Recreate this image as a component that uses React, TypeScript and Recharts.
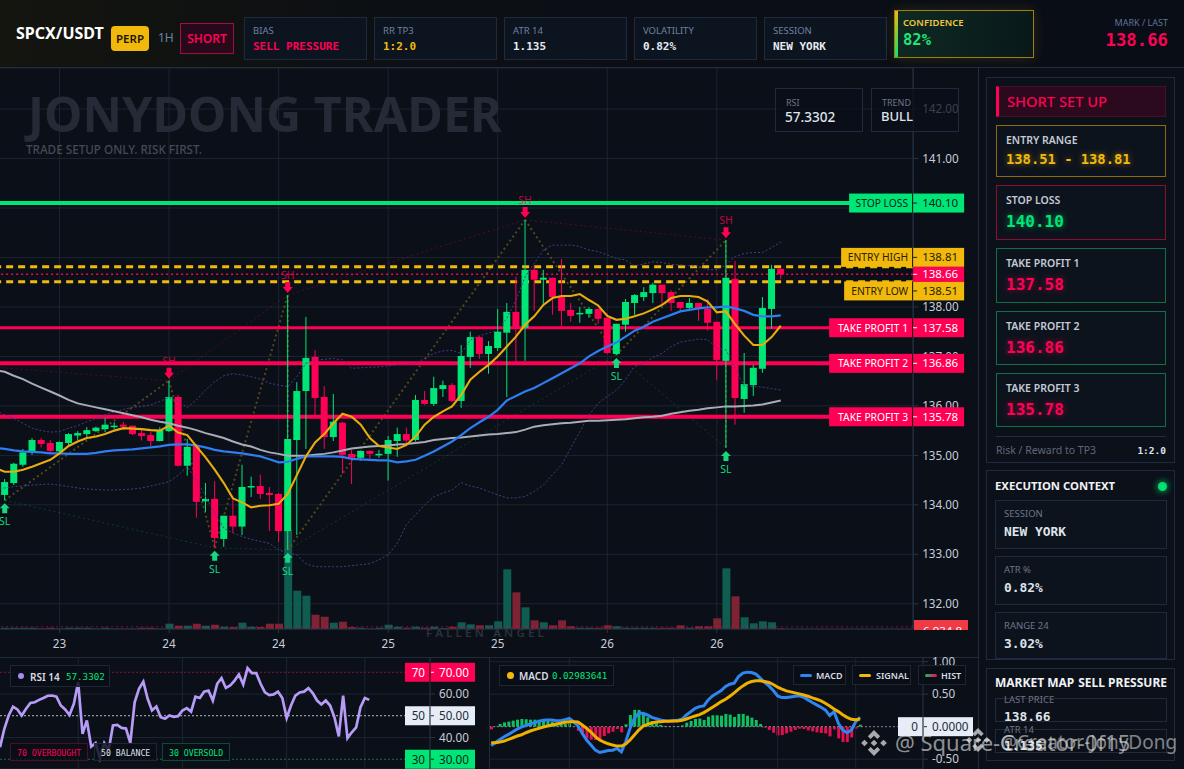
import React from "react";
import { ComposedChart, Bar, Line, Cell, XAxis, YAxis, CartesianGrid, ReferenceLine, ReferenceDot } from "recharts";

const SANS = '"Noto Sans", sans-serif';
const MONO = '"DejaVu Sans Mono", monospace';
const BG = "#0a0f18";
const GRID = "#1c2532";
const GREEN = "#00e676";
const RED = "#ff0055";
const YELLOW = "#f0b90b";

const opens = [134.20,134.44,134.81,135.06,135.31,135.25,135.08,135.25,135.40,135.43,135.49,135.53,135.59,135.62,135.60,135.45,135.41,135.29,135.49,136.18,134.79,135.19,134.07,134.12,133.31,133.78,133.56,134.36,134.38,134.24,134.22,133.47,135.31,136.30,136.99,136.18,135.37,135.66,135.03,134.95,135.09,135.02,135.03,135.29,135.43,135.31,136.12,136.04,136.34,136.42,136.10,136.99,137.39,137.05,137.17,137.48,137.90,137.58,138.75,138.55,138.59,138.20,137.94,137.85,137.86,137.96,137.78,137.05,137.64,138.08,138.20,138.28,138.45,138.30,138.10,137.98,138.08,137.96,137.70,136.91,138.57,136.14,136.42,136.75,137.96,138.77];
const highs = [134.52,134.85,135.13,135.35,135.35,135.31,135.28,135.45,135.49,135.57,135.58,135.75,135.67,135.68,135.60,135.55,135.47,135.57,136.51,136.22,135.33,135.23,134.44,134.48,133.78,134.10,134.81,134.57,134.61,134.36,134.24,138.24,136.48,137.80,137.13,136.40,136.24,135.68,135.11,135.10,135.10,135.11,135.39,135.56,135.56,136.22,136.30,136.59,136.51,136.46,137.23,137.50,137.41,137.31,137.96,138.08,138.61,139.76,138.83,138.75,138.59,138.97,138.08,138.00,138.00,137.96,137.87,137.66,138.16,138.26,138.40,138.49,138.45,138.34,138.10,138.18,138.08,138.16,137.70,139.35,138.93,137.07,136.83,138.20,138.85,138.77];
const lows = [134.09,134.40,134.77,135.01,135.16,135.04,135.04,135.21,135.30,135.35,135.47,135.47,135.53,135.51,135.41,135.30,135.19,135.28,135.47,134.78,134.59,133.74,133.86,133.13,133.15,133.43,133.39,134.16,134.12,133.47,133.25,133.09,133.39,135.13,135.82,135.13,135.29,134.63,134.42,134.89,134.93,134.95,134.49,134.97,135.18,135.28,136.02,136.00,136.18,136.08,135.96,136.77,136.95,136.65,137.11,136.18,136.89,136.91,137.92,138.04,137.84,137.60,137.70,137.68,137.78,137.66,137.05,137.03,137.50,137.84,138.12,138.08,138.06,137.92,137.90,137.94,137.72,137.52,136.53,135.15,135.62,135.86,136.20,136.67,137.56,138.56];
const closes = [134.46,134.83,135.06,135.31,135.23,135.09,135.27,135.43,135.45,135.51,135.56,135.62,135.60,135.58,135.43,135.39,135.29,135.51,136.18,134.79,135.17,134.06,134.12,133.33,133.78,133.56,134.36,134.38,134.22,134.20,133.47,135.33,136.30,136.97,136.16,135.37,135.68,135.01,134.95,135.09,135.03,135.03,135.31,135.43,135.30,136.12,136.04,136.36,136.42,136.10,137.01,137.39,137.05,137.21,137.50,137.90,137.56,138.75,138.55,138.59,138.20,137.92,137.82,137.88,137.96,137.76,137.07,137.66,138.10,138.24,138.30,138.45,138.28,138.08,137.98,138.08,137.98,137.68,136.93,138.59,136.16,136.44,136.77,137.98,138.77,138.66];
const volumes = [13000,13000,13000,13000,7000,13000,3500,13000,13000,13000,3500,13000,3500,3500,3500,13000,13000,3500,53000,33000,33000,53000,33000,43000,23000,20000,63000,23000,20000,53000,53000,993000,383000,333000,143000,123000,63000,73000,20000,13000,3500,13000,43000,23000,13000,23000,13000,23000,10000,23000,67000,47000,37000,37000,77000,597000,367000,217000,87000,67000,37000,87000,27000,13000,13000,13000,37000,27000,13000,13000,13000,13000,13000,13000,37000,13000,27000,27000,107000,607000,327000,117000,57000,77000,67000,6934.8];
const emaFast = [134.67,134.67,134.71,134.77,134.84,134.91,135.04,135.19,135.28,135.35,135.38,135.43,135.50,135.55,135.54,135.53,135.51,135.50,135.60,135.46,135.41,135.18,134.96,134.71,134.44,134.13,134.05,133.95,133.98,133.99,134.02,134.22,134.60,134.98,135.26,135.43,135.65,135.84,135.78,135.62,135.35,135.19,135.16,135.13,135.21,135.38,135.62,135.78,135.89,135.99,136.22,136.53,136.69,136.83,137.00,137.20,137.40,137.64,137.81,138.04,138.18,138.22,138.22,138.26,138.14,138.03,137.82,137.74,137.76,137.81,137.87,137.95,138.04,138.18,138.22,138.22,138.20,138.11,137.89,137.91,137.65,137.42,137.23,137.23,137.39,137.62];
const emaMid = [135.13,135.10,135.08,135.07,135.06,135.04,135.04,135.03,135.03,135.03,135.05,135.08,135.10,135.11,135.12,135.14,135.16,135.18,135.21,135.22,135.22,135.20,135.16,135.11,135.08,135.06,135.04,135.01,134.98,134.92,134.86,134.87,134.93,134.98,134.98,134.98,134.98,134.97,134.93,134.92,134.91,134.90,134.90,134.86,134.88,134.91,134.99,135.08,135.18,135.28,135.41,135.55,135.67,135.78,135.92,136.11,136.20,136.29,136.36,136.46,136.56,136.66,136.76,136.86,137.00,137.11,137.20,137.28,137.40,137.52,137.60,137.70,137.77,137.84,137.91,137.94,137.97,137.99,137.99,138.01,137.97,137.92,137.84,137.81,137.81,137.83];
const emaSlow = [136.69,136.61,136.54,136.45,136.37,136.29,136.21,136.12,136.05,136.01,135.97,135.93,135.89,135.85,135.81,135.77,135.72,135.68,135.65,135.60,135.56,135.51,135.45,135.40,135.35,135.28,135.22,135.18,135.11,135.06,135.03,134.99,134.99,134.99,135.01,135.03,135.06,135.10,135.14,135.16,135.18,135.19,135.20,135.22,135.23,135.25,135.27,135.31,135.33,135.35,135.36,135.38,135.40,135.42,135.43,135.45,135.47,135.52,135.58,135.61,135.63,135.65,135.66,135.68,135.70,135.70,135.71,135.72,135.73,135.75,135.77,135.78,135.80,135.84,135.87,135.90,135.92,135.95,135.97,135.99,135.99,136.00,136.01,136.03,136.07,136.11];
const bbUpper = [135.82,135.75,135.65,135.55,135.50,135.47,135.48,135.55,135.60,135.68,135.75,135.82,135.88,135.93,135.97,135.99,136.02,136.09,136.17,136.09,135.97,136.12,136.32,136.49,136.61,136.65,136.63,136.59,136.54,136.46,136.42,136.39,136.59,136.86,136.93,136.94,136.96,136.93,136.76,136.77,136.78,136.79,136.81,136.83,136.83,136.86,136.96,137.06,137.11,137.12,137.06,137.33,137.42,137.47,137.53,137.77,138.14,138.61,138.88,139.15,139.25,139.25,139.25,139.22,139.15,139.12,139.05,138.98,138.95,138.83,138.87,138.91,138.90,138.86,138.85,138.83,138.83,138.75,138.75,138.85,139.02,139.08,139.10,139.10,139.20,139.31];
const bbLower = [134.34,134.37,134.38,134.40,134.41,134.42,134.40,134.37,134.34,134.32,134.31,134.30,134.30,134.31,134.32,134.34,134.38,134.42,134.47,134.60,134.77,134.50,134.17,133.83,133.53,133.43,133.36,133.30,133.26,133.22,133.09,133.02,132.99,132.81,132.75,132.75,132.75,132.75,132.77,132.79,132.81,132.89,132.99,133.22,133.60,133.80,134.00,134.16,134.24,134.30,134.45,134.38,134.34,134.27,134.20,134.14,134.14,134.17,134.27,134.40,134.61,134.81,135.15,135.48,135.82,136.05,136.19,136.32,136.53,136.80,136.86,136.98,137.06,137.20,137.29,137.32,137.35,137.34,137.17,137.13,136.76,136.40,136.39,136.38,136.35,136.32];
const leadIn = { fast: 134.74, mid: 135.15, slow: 136.72, upper: 135.9, lower: 134.34 };
const rsiValues = [35.5,44.0,50.1,54.2,52.9,50.1,53.2,55.9,56.2,57.3,58.2,59.2,59.3,58.8,54.7,52.9,50.3,55.5,65.4,41.7,47.8,35.8,37.4,30.6,37.4,34.0,45.5,45.8,44.4,44.1,37.5,56.2,62.4,65.7,57.8,52.4,54.2,49.3,48.6,50.1,49.5,49.8,52.4,53.5,51.9,58.8,58.2,61.1,61.6,57.0,64.7,67.3,62.8,63.9,66.2,69.0,64.4,71.9,69.6,69.6,64.7,60.8,59.5,59.8,61.1,58.2,49.0,54.7,59.3,60.7,61.1,62.7,60.4,57.0,55.2,57.0,54.7,49.3,40.5,59.3,39.7,42.4,44.7,53.9,58.2,57.3];
const macdValues = [-0.288,-0.242,-0.196,-0.155,-0.118,-0.077,-0.036,-0.005,0.021,0.041,0.062,0.082,0.098,0.103,0.103,0.093,0.093,0.108,0.129,0.077,0.010,-0.103,-0.206,-0.283,-0.361,-0.397,-0.381,-0.366,-0.361,-0.335,-0.386,-0.232,-0.026,0.129,0.206,0.206,0.180,0.144,0.124,0.103,0.093,0.088,0.093,0.098,0.118,0.180,0.232,0.283,0.309,0.319,0.412,0.474,0.515,0.556,0.618,0.654,0.670,0.773,0.824,0.839,0.834,0.809,0.747,0.680,0.628,0.556,0.474,0.448,0.448,0.458,0.469,0.474,0.453,0.412,0.371,0.335,0.299,0.258,0.170,0.232,0.052,-0.052,-0.093,-0.052,0.077,0.144];
const signalValues = [-0.247,-0.247,-0.237,-0.221,-0.196,-0.170,-0.144,-0.124,-0.093,-0.067,-0.046,-0.026,-0.005,0.010,0.026,0.041,0.052,0.067,0.077,0.077,0.072,0.026,-0.026,-0.082,-0.155,-0.206,-0.237,-0.263,-0.283,-0.299,-0.299,-0.268,-0.206,-0.129,-0.052,0.010,0.036,0.057,0.072,0.077,0.082,0.082,0.088,0.088,0.098,0.118,0.144,0.165,0.185,0.216,0.258,0.299,0.340,0.386,0.422,0.469,0.520,0.577,0.628,0.670,0.695,0.706,0.706,0.695,0.680,0.649,0.608,0.577,0.551,0.536,0.520,0.505,0.489,0.469,0.443,0.422,0.397,0.361,0.319,0.273,0.232,0.185,0.144,0.113,0.108,0.118];
const histValues = [-0.041,0.005,0.041,0.066,0.078,0.093,0.108,0.119,0.114,0.108,0.108,0.108,0.103,0.093,0.077,0.052,0.041,0.041,0.052,0.004,-0.062,-0.129,-0.18,-0.2,-0.206,-0.191,-0.144,-0.103,-0.078,-0.036,-0.087,0.036,0.18,0.258,0.258,0.196,0.144,0.087,0.052,0.026,0.011,0.006,0.005,0.01,0.02,0.062,0.088,0.118,0.124,0.103,0.154,0.175,0.175,0.17,0.196,0.185,0.15,0.196,0.196,0.169,0.139,0.103,0.041,-0.015,-0.052,-0.093,-0.134,-0.129,-0.103,-0.078,-0.051,-0.031,-0.036,-0.057,-0.072,-0.087,-0.098,-0.103,-0.149,-0.041,-0.18,-0.237,-0.237,-0.165,-0.031,0.03];

const slots = Array.from({ length: 100 }, (_, i) => i);
const dayTicks = [6, 18, 30, 42, 54, 66, 78];
const dayLabels = ["23", "24", "24", "25", "25", "26", "26"];
const priceTicks = [132, 133, 134, 135, 136, 137, 138, 139, 140, 141, 142];
const pivots: [number, number][] = [[0,134.09],[18,136.51],[23,133.13],[31,138.24],[31,133.09],[57,139.76],[67,137.03],[79,139.35],[79,135.15]];
const highPivots: [number, number][] = [[-1,136.78],[18,136.51],[31,138.24],[57,139.76],[79,139.35]];
const lowPivots: [number, number][] = [[0,134.09],[23,133.13],[31,133.09],[67,137.03],[79,135.15]];
const swingHighs: [number, number][] = [[18,136.51],[31,138.24],[57,139.76],[79,139.35]];
const swingLows: [number, number][] = [[0,134.09],[23,133.13],[31,133.09],[67,137.03],[79,135.15]];

const rows: any[] = slots.map((i) => i < opens.length ? {
  i, open: opens[i], high: highs[i], low: lows[i], close: closes[i], volume: volumes[i],
  fast: emaFast[i], mid: emaMid[i], slow: emaSlow[i], upper: bbUpper[i], lower: bbLower[i],
  rsi: rsiValues[i], macd: macdValues[i], signal: signalValues[i], hist: histValues[i],
  range: [lows[i], highs[i]],
} : { i });
const mainRows: any[] = [{ i: -1, ...leadIn }, ...rows];

const Candle = (p: any) => {
  const d = p.payload;
  if (!d || d.open == null) return null;
  const up = d.close >= d.open;
  const c = up ? GREEN : RED;
  const top = Math.min(p.y, p.y + p.height);
  const h = Math.abs(p.height);
  const k = h / (d.high - d.low);
  const bt = top + (d.high - Math.max(d.open, d.close)) * k;
  const bh = Math.max(1.5, Math.abs(d.open - d.close) * k);
  const cx = p.x + p.width / 2;
  return (
    <g>
      <rect x={cx - 0.5} y={top} width={1} height={h} fill={c} />
      <rect x={cx - 3.5} y={bt} width={7} height={bh} fill={c} />
    </g>
  );
};

const tag = (leftText: string, leftW: number, price: string, bg: string, fg: string, shift = 0, h = 19) => (p: any) => {
  const right = p.cx + 4.565;
  const y = p.cy + shift - h / 2;
  return (
    <g style={{ fontFamily: SANS }}>
      {leftW > 0 && <rect x={right - leftW} y={y} width={leftW + 51} height={h} fill={bg} />}
      {leftW === 0 && <rect x={right} y={y} width={51} height={h} fill={bg} />}
      {leftW > 0 && <rect x={right - 1} y={y} width={1} height={h} fill="#0a0c10" />}
      {leftW > 0 && <text x={right - 5} y={y + h / 2 + 4} textAnchor="end" fontSize={10.3} fill={fg}>{leftText}</text>}
      <line x1={right} x2={right + 4} y1={y + h / 2} y2={y + h / 2} stroke={fg} />
      <text x={right + 9} y={y + h / 2 + 4} fontSize={11.5} fill={fg}>{price}</text>
    </g>
  );
};

const Down = (label: string) => (p: any) => (
  <g>
    <text x={p.cx} y={p.cy - 16} textAnchor="middle" fontSize={10.5} fill={RED} fillOpacity={0.75} style={{ fontFamily: SANS }}>{label}</text>
    <polygon points={`${p.cx - 2.5},${p.cy - 13} ${p.cx + 2.5},${p.cy - 13} ${p.cx + 2.5},${p.cy - 8} ${p.cx + 5},${p.cy - 8} ${p.cx},${p.cy - 2} ${p.cx - 5},${p.cy - 8} ${p.cx - 2.5},${p.cy - 8}`} fill={RED} />
  </g>
);
const Up = (label: string) => (p: any) => (
  <g>
    <polygon points={`${p.cx - 2.5},${p.cy + 13} ${p.cx + 2.5},${p.cy + 13} ${p.cx + 2.5},${p.cy + 8} ${p.cx + 5},${p.cy + 8} ${p.cx},${p.cy + 3} ${p.cx - 5},${p.cy + 8} ${p.cx - 2.5},${p.cy + 8}`} fill="#16d87e" />
    <text x={p.cx} y={p.cy + 25} textAnchor="middle" fontSize={10.5} fill="#16d87e" style={{ fontFamily: SANS }}>{label}</text>
  </g>
);

const segments = (pts: [number, number][], stroke: string, width: number, dash: string, op: number, prefix: string) =>
  pts.slice(1).map((pt, k) => (
    <ReferenceLine key={prefix + k} segment={[{ x: pts[k][0], y: pts[k][1] }, { x: pt[0], y: pt[1] }]} stroke={stroke} strokeWidth={width} strokeDasharray={dash} strokeOpacity={op} />
  ));

const MAIN_W = 988.13;
const PRICE_DOMAIN: [number, number] = [131.49, 142.83];

const UnderChart = () => (
  <ComposedChart width={MAIN_W} height={589} data={mainRows} margin={{ top: 0, right: 0, bottom: 0, left: 0 }} barCategoryGap={0}>
    <CartesianGrid stroke={GRID} strokeWidth={1} />
    <XAxis dataKey="i" type="category" ticks={dayTicks} interval={0} height={28}
      tickFormatter={(v: number) => dayLabels[dayTicks.indexOf(v)] ?? ""}
      tick={{ fill: "#c9ced8", fontSize: 11.7, fontFamily: SANS }} tickSize={4} tickMargin={7} stroke="#2a3446" />
    <XAxis xAxisId="vol" dataKey="i" type="category" hide />
    <YAxis orientation="right" width={66} domain={PRICE_DOMAIN} ticks={priceTicks} allowDataOverflow interval={0}
      tickFormatter={(v: number) => v.toFixed(2)} tick={{ fill: "#c9ced8", fontSize: 11.7, fontFamily: SANS }} tickSize={5} tickMargin={4} stroke="#2a3446" />
    <YAxis yAxisId="v" hide domain={[0, 5610000]} />
    <Bar xAxisId="vol" yAxisId="v" dataKey="volume" barSize={8} isAnimationActive={false}>
      {mainRows.map((r: any) => <Cell key={r.i} fill={r.close >= r.open ? "#0f5c50" : "#7d2334"} />)}
    </Bar>
    <ReferenceLine yAxisId="v" y={22000} stroke={RED} strokeOpacity={0.55} strokeDasharray="2 3" />
    {segments(pivots, "#6b5a1e", 2, "2 3", 0.75, "z")}
    {segments(highPivots, RED, 1, "2 3", 0.3, "h")}
    {segments(lowPivots, GREEN, 1, "2 3", 0.22, "l")}
    <ReferenceLine y={140.1} stroke={GREEN} strokeWidth={4} />
    <ReferenceLine y={138.81} stroke={YELLOW} strokeWidth={3} strokeDasharray="7 5" />
    <ReferenceLine y={138.51} stroke={YELLOW} strokeWidth={3} strokeDasharray="7 5" />
    <ReferenceLine y={138.66} stroke={RED} strokeWidth={1.5} strokeDasharray="2 3" />
    <ReferenceLine y={137.58} stroke={RED} strokeWidth={3} />
    <ReferenceLine y={136.86} stroke={RED} strokeWidth={4} />
    <ReferenceLine y={135.78} stroke={RED} strokeWidth={4} />
  </ComposedChart>
);

const SeriesChart = () => (
  <ComposedChart width={MAIN_W} height={589} data={mainRows} margin={{ top: 0, right: 66, bottom: 28, left: 0 }} barCategoryGap={0}>
    <XAxis dataKey="i" type="category" hide />
    <YAxis hide domain={PRICE_DOMAIN} allowDataOverflow />
    <Line dataKey="upper" stroke="#4b3a8c" strokeWidth={1} strokeDasharray="2 2" dot={false} isAnimationActive={false} />
    <Line dataKey="lower" stroke="#4b3a8c" strokeWidth={1} strokeDasharray="2 2" dot={false} isAnimationActive={false} />
    <Bar dataKey="range" barSize={9} shape={Candle} isAnimationActive={false} />
    <Line dataKey="slow" stroke="#a8adb8" strokeWidth={2} dot={false} isAnimationActive={false} />
    <Line dataKey="mid" stroke="#2f7df0" strokeWidth={2.2} dot={false} isAnimationActive={false} />
    <Line dataKey="fast" stroke="#e8ac0c" strokeWidth={2.1} dot={false} isAnimationActive={false} />
  </ComposedChart>
);

const TagChart = () => (
  <ComposedChart width={MAIN_W} height={589} data={mainRows} margin={{ top: 0, right: 66, bottom: 28, left: 0 }}>
    <XAxis dataKey="i" type="category" scale="band" hide />
    <YAxis hide domain={PRICE_DOMAIN} allowDataOverflow />
    {swingHighs.map(([x, y]) => <ReferenceDot key={"sh" + x} x={x} y={y} shape={Down("SH")} />)}
    {swingLows.map(([x, y]) => <ReferenceDot key={"sl" + x} x={x} y={y} shape={Up("SL")} />)}
    <ReferenceDot x={99} y={140.1} shape={tag("STOP LOSS", 64, "140.10", GREEN, "#07231a")} />
    <ReferenceDot x={99} y={138.81} shape={tag("ENTRY HIGH", 72, "138.81", YELLOW, "#2a2000", -9.5)} />
    <ReferenceDot x={99} y={138.51} shape={tag("ENTRY LOW", 69, "138.51", YELLOW, "#2a2000", 9.2)} />
    <ReferenceDot x={99} y={138.66} shape={tag("", 0, "138.66", RED, "#fff", 0, 15)} />
    <ReferenceDot x={99} y={137.58} shape={tag("TAKE PROFIT 1", 84, "137.58", RED, "#fff")} />
    <ReferenceDot x={99} y={136.86} shape={tag("TAKE PROFIT 2", 84, "136.86", RED, "#fff")} />
    <ReferenceDot x={99} y={135.78} shape={tag("TAKE PROFIT 3", 84, "135.78", RED, "#fff")} />
  </ComposedChart>
);

const box = (w: string, left: string, right: string, bg: string, fg: string, cellL: number) => (p: any) => {
  const axis = p.cx + cellL;
  const y = p.cy - 9.5;
  return (
    <g style={{ fontFamily: SANS }}>
      <rect x={axis - 25} y={y} width={25 + parseFloat(w)} height={19} fill={bg} />
      <rect x={axis - 0.5} y={y} width={1} height={19} fill="#0a0c10" />
      <text x={axis - 5} y={y + 14} textAnchor="end" fontSize={11.7} fill={fg}>{left}</text>
      <line x1={axis + 1} x2={axis + 4} y1={y + 9.5} y2={y + 9.5} stroke={fg} />
      <text x={axis + 9} y={y + 14} fontSize={11.7} fill={fg}>{right}</text>
    </g>
  );
};

const panelTicks = [18, 42, 66, 84];

const RsiChart = () => (
  <ComposedChart width={489} height={112} data={rows} margin={{ top: 0, right: 0, bottom: 0, left: 0 }}>
    <CartesianGrid stroke={GRID} vertical={false} />
    <XAxis dataKey="i" type="category" hide />
    <YAxis orientation="right" width={59} domain={[25.5, 77.03]} ticks={[60, 40]} allowDataOverflow interval={0}
      tickFormatter={(v: number) => v.toFixed(2)} tick={{ fill: "#c9ced8", fontSize: 11.7, fontFamily: SANS }} tickSize={5} tickMargin={4} stroke="#2a3446" />
    {panelTicks.map((t) => <ReferenceLine key={t} x={t} stroke={GRID} />)}
    <ReferenceLine y={70} stroke="#8a1238" strokeDasharray="2 2" />
    <ReferenceLine y={50} stroke="#b8bec8" strokeDasharray="2 2" />
    <ReferenceLine y={30} stroke="#0c7a4a" strokeDasharray="2 2" />
    <Line dataKey="rsi" stroke="#b69cf6" strokeWidth={2.7} dot={false} isAnimationActive={false} />
    <ReferenceDot x={99} y={70} shape={box("45", "70", "70.00", RED, "#fff", 0)} />
    <ReferenceDot x={99} y={50} shape={box("45", "50", "50.00", "#e6edf7", "#222a36", 0)} />
    <ReferenceDot x={99} y={30} shape={box("45", "30", "30.00", GREEN, "#07231a", 0)} />
  </ComposedChart>
);

const MacdChart = () => (
  <ComposedChart width={490} height={112} data={rows} margin={{ top: 0, right: 0, bottom: 0, left: 0 }} barCategoryGap={0}>
    <CartesianGrid stroke={GRID} vertical={false} />
    <XAxis dataKey="i" type="category" hide />
    <YAxis orientation="right" width={56} domain={[-0.651, 1.072]} ticks={[1, 0.5, -0.5]} allowDataOverflow interval={0}
      tickFormatter={(v: number) => v.toFixed(2)} tick={{ fill: "#c9ced8", fontSize: 11.7, fontFamily: SANS }} tickSize={5} tickMargin={4} stroke="#2a3446" />
    {panelTicks.map((t) => <ReferenceLine key={t} x={t} stroke={GRID} />)}
    <ReferenceLine y={0} stroke="#7f8794" strokeDasharray="2 2" />
    <Bar dataKey="hist" barSize={3} isAnimationActive={false}>
      {rows.map((r: any) => <Cell key={r.i} fill={(r.hist ?? 0) >= 0 ? "#10c060" : "#e5104f"} />)}
    </Bar>
    <Line dataKey="macd" stroke="#2f86f0" strokeWidth={3} dot={false} isAnimationActive={false} />
    <Line dataKey="signal" stroke="#f0b000" strokeWidth={3} dot={false} isAnimationActive={false} />
    <ReferenceDot x={99} y={0} shape={box("50", "0", "0.0000", "#e6edf7", "#222a36", 2.17)} />
  </ComposedChart>
);

const abs = (left: number, top: number, width: number, height: number, extra: React.CSSProperties = {}): React.CSSProperties => ({
  position: "absolute", left, top, width, height, boxSizing: "border-box", ...extra,
});
const T = ({ x, y, c, s, w = 400, f = SANS, children, right, ls }: any) => (
  <div style={{ position: "absolute", ...(right != null ? { right } : { left: x }), top: y, color: c, fontSize: s, fontWeight: w, fontFamily: f, lineHeight: 1, whiteSpace: "pre", letterSpacing: ls }}>{children}</div>
);

const StatBox = ({ x, label, value, color }: any) => (
  <div style={abs(x, 17, 123, 43, { border: "1px solid #1f2a3c", background: "#0c1420" })}>
    <T x={8} y={8} c="#6f80a0" s={9.5}>{label}</T>
    <T x={8} y={23} c={color} s={11} w={700} f={MONO}>{value}</T>
  </div>
);

const Card = ({ y, h, border, label, value, color, glow, vs = 16, vy = 27 }: any) => (
  <div style={abs(996, y, 170, h, { border: `1px solid ${border}`, background: "#0d131d" })}>
    <T x={9} y={9} c="#c4cad4" s={10.5} w={600}>{label}</T>
    <T x={9} y={vy} c={color} s={vs} w={700} f={MONO}>
      <span style={{ textShadow: `0 0 6px ${glow}` }}>{value}</span>
    </T>
  </div>
);

const Ctx = ({ y, h, label, value }: any) => (
  <div style={abs(995, y, 172, h, { border: "1px solid #1f2a3c", background: "#0d131d" })}>
    <T x={8} y={8} c="#6b7688" s={9.5}>{label}</T>
    <T x={8} y={25} c="#dfe3ea" s={12.9} w={700} f={MONO}>{value}</T>
  </div>
);

const Legend = ({ x, y, w, h, children, border = "#1e2533" }: any) => (
  <div style={abs(x, y, w, h, { border: `1px solid ${border}`, background: "rgba(10,14,22,0.82)" })}>{children}</div>
);

const Logo = ({ x, y, s }: any) => (
  <svg style={{ position: "absolute", left: x, top: y }} width={s} height={s} viewBox="0 0 100 100" opacity={0.72}>
    <g fill="#e6e6e6">
      <polygon points="50,4 72,26 62,36 50,24 38,36 28,26" />
      <polygon points="50,96 72,74 62,64 50,76 38,64 28,74" />
      <polygon points="4,50 16,38 28,50 16,62" />
      <polygon points="96,50 84,38 72,50 84,62" />
      <polygon points="50,38 62,50 50,62 38,50" />
    </g>
  </svg>
);

export default function App() {
  return (
    <div style={{ position: "absolute", left: 0, top: 0, width: 1184, height: 769, overflow: "hidden", background: BG, fontFamily: SANS }}>
      {/* header */}
      <div style={abs(0, 0, 1184, 68, { background: "linear-gradient(90deg,#14150f 0%,#0c0f14 35%,#090d16 100%)", borderBottom: "1px solid #222c3b" })} />
      <T x={16} y={25} c="#fff" s={16} w={700}>SPCX/USDT</T>
      <div style={abs(111, 26, 38, 25, { background: YELLOW, borderRadius: 4, color: "#1a1400", fontSize: 11.5, fontWeight: 600, textAlign: "center", lineHeight: "25px" })}>PERP</div>
      <T x={158} y={32} c="#6a84aa" s={12}>1H</T>
      <div style={abs(180, 23, 54, 31, { border: "1px solid #a0103c", background: "#28091b", color: RED, fontSize: 12, fontWeight: 600, textAlign: "center", lineHeight: "29px" })}>SHORT</div>
      <StatBox x={244} label="BIAS" value="SELL PRESSURE" color={RED} />
      <StatBox x={374} label="RR TP3" value="1:2.0" color={YELLOW} />
      <StatBox x={504} label="ATR 14" value="1.135" color="#e6eaf0" />
      <StatBox x={634} label="VOLATILITY" value="0.82%" color="#e6eaf0" />
      <StatBox x={764} label="SESSION" value="NEW YORK" color="#e6eaf0" />
      <div style={abs(894, 10, 140, 48, { border: "1px solid #a07f0c", background: "linear-gradient(100deg,#0f2a22,#08181a)", boxShadow: "0 0 12px rgba(200,160,20,0.18)" })}>
        <div style={abs(0, 0, 3, 46, { background: `linear-gradient(180deg,${YELLOW},${GREEN})` })} />
        <T x={8} y={7} c="#f0c840" s={9.5} w={600}>CONFIDENCE</T>
        <T x={8} y={22} c="#22e27a" s={15.5} w={700} f={MONO}>82%</T>
      </div>
      <T right={1184 - 1168} y={18} c="#5f7399" s={9}>MARK / LAST</T>
      <T right={1184 - 1168} y={31.5} c={RED} s={17.3} w={700} f={MONO}>138.66</T>

      {/* panes */}
      <div style={abs(-9.13, 68, MAIN_W, 589)}><UnderChart /></div>
      <div style={abs(-9.13, 68, MAIN_W, 589)}><SeriesChart /></div>
      <div style={abs(-9.13, 68, MAIN_W, 589)}><TagChart /></div>
      <div style={abs(914, 620, 54, 10, { background: "#f03a45", overflow: "hidden" })}>
        <T x={9} y={4.5} c="#fff" s={11.5}>6,934.8</T>
      </div>
      <div style={abs(0, 656.5, 979, 1, { background: "#222c3b" })} />
      <div style={abs(0, 657, 489, 112)}><RsiChart /></div>
      <div style={abs(489, 657, 490, 112)}><MacdChart /></div>
      <div style={abs(488.5, 657, 1, 112, { background: "#222c3b" })} />
      <div style={abs(977.5, 68, 1, 701, { background: "#222c3b" })} />

      {/* watermarks */}
      <T x={28} y={88.5} c="#252a36" s={48.6} w={700}>JONYDONG TRADER</T>
      <T x={26} y={144} c="#454a56" s={11.7} w={500}>TRADE SETUP ONLY. RISK FIRST.</T>
      <T x={426} y={627} c="#2c313c" s={11.5} w={600} ls={3.2}>FALLEN ANGEL</T>
      <div style={abs(775, 88, 88, 44, { border: "1px solid #1f2a3c", background: "rgba(10,15,24,0.75)" })}>
        <T x={10} y={9} c="#6b7688" s={9}>RSI</T>
        <T x={9} y={21} c="#dfe3ea" s={13.6} w={500}>57.3302</T>
      </div>
      <div style={abs(871, 88, 88, 44, { border: "1px solid #1f2a3c", background: "rgba(10,15,24,0.75)" })}>
        <T x={10} y={9} c="#6b7688" s={9}>TREND</T>
        <T x={9} y={21} c="#dfe3ea" s={13} w={500}>BULL</T>
      </div>

      {/* RSI legends */}
      <Legend x={10} y={665} w={100} h={22}>
        <div style={abs(7, 7, 6, 6, { borderRadius: 3, background: "#a58cf0" })} />
        <T x={19} y={6} c="#d8dce4" s={10} w={600}>RSI 14</T>
        <T x={55} y={6} c={GREEN} s={9.2} f={MONO}>57.3302</T>
      </Legend>
      <Legend x={10} y={743} w={78} h={18} border="#4a1028"><T x={6} y={5} c={RED} s={8.2} f={MONO}>70 OVERBOUGHT</T></Legend>
      <Legend x={94} y={743} w={63} h={18}><T x={6} y={5} c="#dfe3ea" s={8.2} f={MONO}>50 BALANCE</T></Legend>
      <Legend x={162} y={743} w={68} h={18} border="#0b4a33"><T x={6} y={5} c={GREEN} s={8.2} f={MONO}>30 OVERSOLD</T></Legend>

      {/* MACD legends */}
      <Legend x={499} y={665} w={115} h={21}>
        <div style={abs(7, 6, 7, 7, { borderRadius: 4, background: YELLOW })} />
        <T x={19} y={5} c="#d8dce4" s={10} w={600}>MACD</T>
        <T x={52} y={5} c={GREEN} s={9.2} f={MONO}>0.02983641</T>
      </Legend>
      <Legend x={793} y={665} w={53} h={20}>
        <div style={abs(6, 8, 12, 3, { borderRadius: 2, background: "#2f86f0" })} />
        <T x={22} y={5} c="#d8dce4" s={9} w={600}>MACD</T>
      </Legend>
      <Legend x={852} y={665} w={59} h={20}>
        <div style={abs(6, 8, 12, 3, { borderRadius: 2, background: YELLOW })} />
        <T x={23} y={5} c="#d8dce4" s={9} w={600}>SIGNAL</T>
      </Legend>
      <Legend x={918} y={665} w={48} h={20}>
        <div style={abs(6, 8, 12, 3, { borderRadius: 2, background: `linear-gradient(90deg,#10c060,${RED})` })} />
        <T x={22} y={5} c="#d8dce4" s={9} w={600}>HIST</T>
      </Legend>

      {/* side panel */}
      <div style={abs(986, 77, 189, 386, { border: "1px solid #1d2a3f", background: "#0b1019" })} />
      <div style={abs(996, 86, 170, 31, { background: "#2a0a1c", borderLeft: `3px solid ${RED}`, borderTop: "1px solid #4a0e2a", borderRight: "1px solid #4a0e2a", borderBottom: "1px solid #4a0e2a" })}>
        <T x={8} y={7} c={RED} s={14.7} w={500}>SHORT SET UP</T>
      </div>
      <Card y={125} h={52} border="#8a6c08" label="ENTRY RANGE" value="138.51 - 138.81" color={YELLOW} glow="rgba(240,185,11,.55)" vs={13.8} />
      <Card y={185} h={55} border="#8a0f35" label="STOP LOSS" value="140.10" color={GREEN} glow="rgba(0,230,118,.55)" vy={28} />
      <Card y={248} h={55} border="#0e7048" label="TAKE PROFIT 1" value="137.58" color={RED} glow="rgba(255,0,85,.55)" vy={28} />
      <Card y={311} h={54} border="#0e7048" label="TAKE PROFIT 2" value="136.86" color={RED} glow="rgba(255,0,85,.55)" vy={28} />
      <Card y={373} h={54} border="#0e7048" label="TAKE PROFIT 3" value="135.78" color={RED} glow="rgba(255,0,85,.55)" vy={28} />
      <div style={abs(996, 436, 170, 1, { background: "#232c3a" })} />
      <T x={996} y={445} c="#5f6877" s={10.5}>Risk / Reward to TP3</T>
      <T right={1184 - 1166} y={446} c="#dfe3ea" s={9.5} w={700} f={MONO}>1:2.0</T>

      <div style={abs(986, 470, 189, 190, { border: "1px solid #1d2a3f", background: "#0b1019", overflow: "hidden" })} />
      <T x={995} y={480} c="#f0f2f5" s={11.3} w={700}>EXECUTION CONTEXT</T>
      <div style={abs(1158, 482, 9, 9, { borderRadius: 5, background: "#00e070", boxShadow: "0 0 7px #00e070" })} />
      <Ctx y={500} h={49} label="SESSION" value="NEW YORK" />
      <Ctx y={556} h={49} label="ATR %" value="0.82%" />
      <Ctx y={612} h={47} label="RANGE 24" value="3.02%" />

      <div style={abs(986, 668, 189, 93, { border: "1px solid #1d2a3f", background: "#0b1019" })} />
      <T x={995} y={677} c="#f0f2f5" s={12} w={700}>MARKET MAP</T>
      <T right={1184 - 1167} y={677} c="#f0f2f5" s={12} w={700}>SELL PRESSURE</T>
      <div style={abs(995, 698, 172, 24, { border: "1px solid #1f2a3c" })} />
      <div style={abs(995, 729, 172, 24, { border: "1px solid #1f2a3c" })} />
      <T x={1004} y={695} c="#6b7688" s={9.5}>LAST PRICE</T>
      <T x={1004} y={711} c="#dfe3ea" s={12.9} w={700} f={MONO}>138.66</T>
      <T x={1004} y={725} c="#6b7688" s={9.5}>ATR 14</T>
      <T x={1004} y={740} c="#dfe3ea" s={12.9} w={700} f={MONO}>1.135</T>

      {/* corner watermark */}
      <Logo x={860} y={729} s={28} />
      <Logo x={965} y={727} s={26} />
      <T x={895} y={731} c="rgba(230,230,230,0.62)" s={22}>@ Square-Creator-0f15</T>
      <T x={1000} y={733} c="rgba(230,230,230,0.55)" s={19}>@Creator-JonyDong</T>
    </div>
  );
}
